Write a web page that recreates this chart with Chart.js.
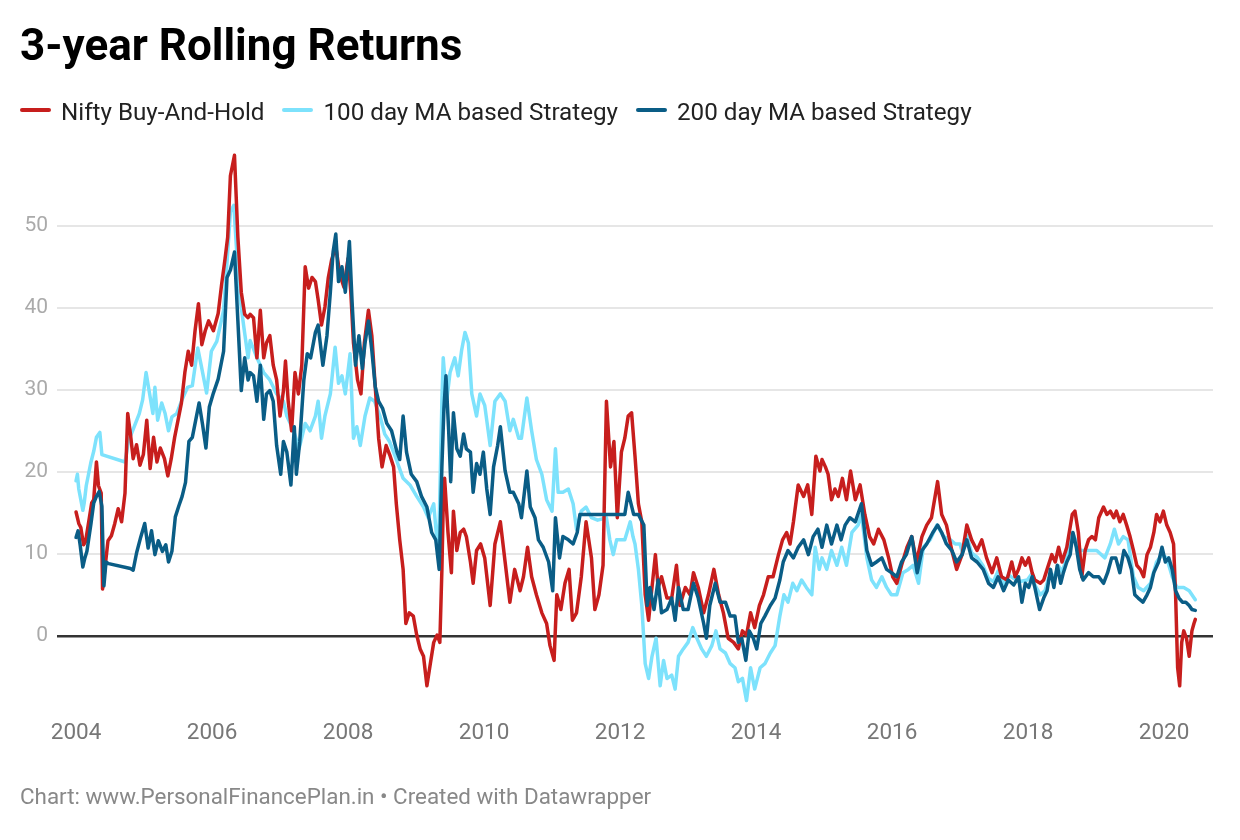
<!DOCTYPE html>
<html>
<head>
<meta charset="utf-8">
<title>3-year Rolling Returns</title>
<script src="https://cdn.jsdelivr.net/npm/chart.js@4.4.1/dist/chart.umd.min.js"></script>
<style>
    html, body { margin: 0; padding: 0; background: #fff; }
    body { width: 1240px; height: 840px; position: relative; overflow: hidden; font-family: Roboto, "Noto Sans", sans-serif; }
    #chart { position: absolute; left: 0; top: 0; }
    .title { position: absolute; left: 20px; top: 23px; margin: 0; font-size: 44px; line-height: 1; font-weight: 700; color: #000; }
    .legend { position: absolute; left: 20px; top: 100px; display: flex; align-items: center; font-size: 24.2px; line-height: 1; color: #222; }
    .legend-item { display: flex; align-items: center; margin-right: 18px; }
    .legend-swatch { width: 31px; height: 4px; border-radius: 2px; margin-right: 10px; position: relative; top: -2px; }
    .footer { position: absolute; left: 20px; top: 785px; font-size: 22.4px; line-height: 1; color: #888; }
</style>
</head>
<body>
<canvas id="chart" width="1240" height="840"></canvas>
<h1 class="title">3-year Rolling Returns</h1>
<div class="legend" id="legend"></div>
<div class="footer">Chart: www.PersonalFinancePlan.in • Created with Datawrapper</div>
<script>
// --- Data (decimal years / % returns) ---
const seriesNames = ['Nifty Buy-And-Hold', '100 day MA based Strategy', '200 day MA based Strategy'];
const seriesColors = ['#c71e1d', '#7de2fc', '#0a5d86'];
const xTickYears = [2004, 2006, 2008, 2010, 2012, 2014, 2016, 2018, 2020];
const yTickValues = [0, 10, 20, 30, 40, 50];

const niftyYears = [
    2004.00, 2004.04, 2004.07, 2004.11, 2004.14, 2004.19, 2004.23, 2004.26, 2004.30, 2004.33, 2004.37, 2004.39, 2004.43, 2004.47,
    2004.52, 2004.57, 2004.62, 2004.67, 2004.72, 2004.76, 2004.80, 2004.84, 2004.89, 2004.94, 2004.99, 2005.04, 2005.09, 2005.14,
    2005.19, 2005.24, 2005.30, 2005.35, 2005.40, 2005.45, 2005.50, 2005.55, 2005.60, 2005.65, 2005.70, 2005.75, 2005.80, 2005.85,
    2005.90, 2005.95, 2006.02, 2006.09, 2006.14, 2006.19, 2006.23, 2006.27, 2006.33, 2006.38, 2006.43, 2006.48, 2006.53, 2006.56,
    2006.61, 2006.66, 2006.71, 2006.76, 2006.80, 2006.85, 2006.90, 2006.95, 2007.00, 2007.05, 2007.08, 2007.12, 2007.17, 2007.22,
    2007.27, 2007.32, 2007.37, 2007.42, 2007.47, 2007.52, 2007.56, 2007.61, 2007.66, 2007.71, 2007.76, 2007.82, 2007.88, 2007.94,
    2008.00, 2008.04, 2008.08, 2008.14, 2008.19, 2008.24, 2008.30, 2008.35, 2008.40, 2008.45, 2008.50, 2008.56, 2008.62, 2008.67,
    2008.71, 2008.76, 2008.81, 2008.85, 2008.90, 2008.96, 2009.01, 2009.06, 2009.11, 2009.16, 2009.21, 2009.26, 2009.31, 2009.35,
    2009.38, 2009.40, 2009.42, 2009.47, 2009.52, 2009.55, 2009.60, 2009.65, 2009.70, 2009.74, 2009.80, 2009.84, 2009.89, 2009.95,
    2010.01, 2010.09, 2010.16, 2010.24, 2010.31, 2010.38, 2010.45, 2010.53, 2010.58, 2010.64, 2010.70, 2010.77, 2010.85, 2010.92,
    2010.97, 2011.03, 2011.07, 2011.13, 2011.19, 2011.25, 2011.30, 2011.36, 2011.43, 2011.50, 2011.58, 2011.63, 2011.69, 2011.75,
    2011.80, 2011.86, 2011.91, 2011.96, 2012.02, 2012.07, 2012.12, 2012.17, 2012.22, 2012.27, 2012.32, 2012.37, 2012.42, 2012.47,
    2012.52, 2012.56, 2012.61, 2012.69, 2012.76, 2012.83, 2012.88, 2012.96, 2013.03, 2013.08, 2013.15, 2013.23, 2013.30, 2013.38,
    2013.45, 2013.52, 2013.59, 2013.67, 2013.74, 2013.80, 2013.86, 2013.92, 2013.98, 2014.05, 2014.11, 2014.18, 2014.25, 2014.33,
    2014.39, 2014.45, 2014.50, 2014.55, 2014.62, 2014.70, 2014.76, 2014.82, 2014.88, 2014.94, 2014.97, 2015.02, 2015.06, 2015.11,
    2015.16, 2015.21, 2015.27, 2015.33, 2015.39, 2015.46, 2015.53, 2015.60, 2015.67, 2015.73, 2015.80, 2015.88, 2015.95, 2016.01,
    2016.07, 2016.14, 2016.22, 2016.29, 2016.36, 2016.44, 2016.51, 2016.58, 2016.67, 2016.73, 2016.80, 2016.88, 2016.95, 2017.03,
    2017.10, 2017.17, 2017.25, 2017.32, 2017.39, 2017.47, 2017.54, 2017.61, 2017.69, 2017.76, 2017.81, 2017.86, 2017.91, 2017.96,
    2018.01, 2018.06, 2018.10, 2018.18, 2018.23, 2018.28, 2018.35, 2018.40, 2018.45, 2018.50, 2018.57, 2018.65, 2018.69, 2018.74,
    2018.79, 2018.84, 2018.89, 2018.94, 2018.99, 2019.04, 2019.11, 2019.16, 2019.21, 2019.26, 2019.30, 2019.35, 2019.40, 2019.45,
    2019.50, 2019.55, 2019.60, 2019.65, 2019.70, 2019.75, 2019.80, 2019.85, 2019.89, 2019.94, 2019.99, 2020.04, 2020.09, 2020.14,
    2020.17, 2020.20, 2020.23, 2020.26, 2020.29, 2020.33, 2020.37, 2020.41, 2020.44, 2020.46
];
const niftyReturns = [
    15.1, 13.7, 13.2, 11.1, 11.5, 14.1, 16.2, 16.6, 21.2, 18.3, 17.4, 5.7, 8.6, 11.6,
    12.2, 13.7, 15.5, 13.9, 17.4, 27.1, 24.6, 21.6, 23.3, 20.8, 22.1, 26.3, 20.4, 24.2,
    21.2, 22.9, 21.6, 19.5, 21.6, 24.2, 26.3, 28.4, 32.1, 34.7, 33.0, 37.2, 40.5, 35.5,
    37.2, 38.4, 37.2, 39.3, 42.8, 45.9, 48.6, 56.1, 58.6, 48.6, 41.9, 39.2, 38.8, 39.2,
    38.8, 33.9, 39.7, 33.9, 35.7, 36.6, 33.0, 31.2, 26.8, 29.9, 33.5, 28.6, 25.0, 32.1,
    29.5, 33.0, 45.0, 42.4, 43.7, 43.2, 41.0, 37.9, 40.1, 43.7, 45.9, 47.5, 44.0, 42.5,
    46.0, 42.0, 35.7, 31.2, 29.5, 35.7, 39.7, 36.6, 30.4, 24.1, 20.6, 23.2, 21.9, 20.6,
    16.1, 11.7, 8.1, 1.5, 2.8, 2.4, 0.1, -1.6, -2.5, -6.1, -3.4, -0.8, 0.1, -0.8,
    8.0, 16.0, 19.2, 12.6, 7.7, 15.2, 10.4, 12.6, 13.0, 12.1, 9.0, 6.4, 10.4, 11.2,
    9.5, 3.7, 11.2, 13.9, 9.0, 4.1, 8.1, 5.5, 7.2, 10.8, 7.2, 5.0, 2.8, 1.5,
    -1.2, -3.0, 5.0, 3.2, 6.4, 8.1, 1.9, 2.8, 7.2, 13.9, 9.5, 3.2, 5.0, 8.6,
    28.6, 20.6, 23.7, 14.4, 22.4, 24.1, 26.8, 27.2, 21.9, 16.1, 13.9, 5.0, 1.9, 5.9,
    9.9, 5.9, 7.2, 4.6, 4.6, 8.6, 3.7, 5.9, 5.0, 7.7, 5.9, 2.8, 5.0, 8.1,
    5.0, 2.8, -0.3, -0.8, -1.6, 0.6, 0.1, 2.8, 1.0, 3.7, 5.0, 7.2, 7.2, 9.9,
    11.7, 12.6, 11.2, 13.9, 18.4, 17.0, 18.4, 14.8, 21.9, 20.1, 21.5, 20.6, 19.7, 16.6,
    17.9, 17.0, 19.2, 16.6, 20.1, 16.6, 18.4, 14.8, 12.1, 11.2, 13.0, 11.7, 9.5, 7.2,
    6.4, 8.6, 10.8, 12.1, 9.0, 12.1, 13.5, 14.4, 18.8, 14.8, 13.5, 10.4, 8.1, 9.9,
    13.5, 11.7, 10.4, 11.7, 9.5, 7.7, 9.5, 7.2, 6.8, 9.0, 7.2, 8.1, 9.5, 8.6,
    9.5, 7.7, 6.8, 6.4, 6.8, 8.1, 9.9, 9.0, 10.8, 9.0, 10.8, 14.8, 15.2, 12.6,
    7.2, 10.4, 11.7, 12.1, 11.7, 14.4, 15.7, 14.8, 15.2, 14.4, 15.2, 13.9, 14.8, 13.5,
    12.1, 10.4, 8.6, 8.1, 7.2, 9.9, 10.8, 12.6, 14.8, 13.9, 15.2, 13.5, 12.6, 11.2,
    5.0, -3.9, -6.1, -0.8, 0.6, -0.3, -2.5, 0.6, 1.5, 2.0
];

const ma100Years = [
    2004.00, 2004.02, 2004.04, 2004.10, 2004.12, 2004.15, 2004.22, 2004.26, 2004.30, 2004.35, 2004.38, 2004.72, 2004.77, 2004.85,
    2004.93, 2004.98, 2005.03, 2005.08, 2005.13, 2005.16, 2005.20, 2005.26, 2005.31, 2005.36, 2005.41, 2005.48, 2005.56, 2005.64,
    2005.71, 2005.79, 2005.84, 2005.92, 2005.99, 2006.07, 2006.17, 2006.22, 2006.27, 2006.32, 2006.40, 2006.47, 2006.53, 2006.56,
    2006.61, 2006.66, 2006.76, 2006.85, 2006.95, 2007.05, 2007.10, 2007.20, 2007.28, 2007.37, 2007.44, 2007.52, 2007.56, 2007.61,
    2007.66, 2007.74, 2007.81, 2007.86, 2007.91, 2007.96, 2008.03, 2008.08, 2008.13, 2008.18, 2008.25, 2008.32, 2008.39, 2008.47,
    2008.54, 2008.61, 2008.71, 2008.81, 2008.91, 2009.01, 2009.11, 2009.18, 2009.26, 2009.33, 2009.38, 2009.40, 2009.45, 2009.50,
    2009.57, 2009.62, 2009.67, 2009.72, 2009.77, 2009.82, 2009.89, 2009.94, 2010.01, 2010.09, 2010.16, 2010.24, 2010.31, 2010.38,
    2010.43, 2010.51, 2010.55, 2010.63, 2010.70, 2010.77, 2010.85, 2010.92, 2011.00, 2011.05, 2011.09, 2011.16, 2011.24, 2011.31,
    2011.36, 2011.43, 2011.50, 2011.58, 2011.67, 2011.80, 2011.85, 2011.90, 2011.95, 2012.07, 2012.15, 2012.19, 2012.22, 2012.27,
    2012.32, 2012.37, 2012.42, 2012.47, 2012.53, 2012.59, 2012.64, 2012.69, 2012.76, 2012.81, 2012.86, 2012.93, 2013.00, 2013.07,
    2013.13, 2013.20, 2013.27, 2013.35, 2013.41, 2013.47, 2013.55, 2013.62, 2013.69, 2013.74, 2013.80, 2013.86, 2013.92, 2013.98,
    2014.06, 2014.13, 2014.21, 2014.28, 2014.35, 2014.41, 2014.47, 2014.54, 2014.60, 2014.67, 2014.74, 2014.82, 2014.87, 2014.93,
    2014.97, 2015.04, 2015.11, 2015.19, 2015.26, 2015.33, 2015.41, 2015.50, 2015.55, 2015.63, 2015.70, 2015.77, 2015.85, 2015.92,
    2015.99, 2016.07, 2016.16, 2016.24, 2016.31, 2016.39, 2016.46, 2016.56, 2016.66, 2016.76, 2016.86, 2016.93, 2017.00, 2017.03,
    2017.10, 2017.17, 2017.25, 2017.34, 2017.42, 2017.49, 2017.56, 2017.64, 2017.71, 2017.79, 2017.86, 2017.99, 2018.05, 2018.10,
    2018.18, 2018.25, 2018.30, 2018.38, 2018.45, 2018.50, 2018.57, 2018.65, 2018.77, 2018.86, 2019.01, 2019.13, 2019.21, 2019.27,
    2019.33, 2019.40, 2019.47, 2019.55, 2019.62, 2019.70, 2019.80, 2019.89, 2019.97, 2020.04, 2020.12, 2020.19, 2020.29, 2020.37,
    2020.46
];
const ma100Returns = [
    18.9, 19.7, 17.9, 15.3, 16.2, 18.3, 21.2, 22.5, 24.2, 24.8, 22.1, 21.2, 23.7, 25.4,
    27.1, 28.8, 32.1, 29.6, 27.1, 30.3, 26.3, 28.4, 27.1, 25.0, 26.7, 27.1, 28.8, 30.3,
    30.5, 35.1, 33.0, 29.6, 34.7, 35.9, 39.7, 45.5, 51.7, 52.5, 41.9, 37.5, 33.9, 36.0,
    35.0, 33.9, 32.1, 31.2, 29.5, 28.6, 26.8, 25.0, 22.8, 25.9, 25.0, 26.8, 28.6, 24.1,
    26.8, 29.5, 35.2, 30.8, 31.7, 29.5, 34.4, 24.1, 25.5, 23.2, 26.8, 29.0, 28.6, 26.8,
    24.6, 23.7, 21.5, 19.2, 18.4, 17.0, 15.7, 14.4, 16.1, 9.5, 28.6, 33.9, 28.6, 32.1,
    33.9, 31.7, 34.8, 37.0, 35.7, 29.5, 26.8, 29.5, 28.1, 23.2, 28.6, 29.5, 28.6, 25.0,
    26.4, 24.1, 24.1, 29.0, 25.0, 21.5, 19.7, 16.6, 15.2, 22.8, 17.5, 17.5, 17.9, 16.1,
    13.0, 15.2, 15.7, 14.4, 14.1, 14.4, 11.7, 9.9, 11.7, 11.7, 13.9, 12.1, 11.2, 8.1,
    3.7, -3.4, -5.2, -2.5, -0.3, -6.1, -3.0, -5.2, -4.8, -6.5, -2.5, -1.6, -0.8, 1.0,
    -0.3, -1.6, -2.5, -1.2, 0.6, -1.6, -2.1, -3.4, -3.9, -5.6, -5.2, -7.9, -3.9, -6.5,
    -3.9, -3.4, -2.1, -1.2, 2.4, 5.0, 4.1, 6.4, 5.5, 6.8, 5.9, 5.0, 10.8, 8.1,
    9.5, 8.1, 10.4, 8.6, 10.8, 8.6, 12.6, 13.5, 14.8, 9.5, 6.8, 5.9, 7.2, 5.9,
    5.0, 5.0, 7.7, 8.1, 8.6, 6.4, 10.8, 11.7, 13.5, 12.1, 11.7, 11.2, 11.2, 10.3,
    12.2, 10.1, 9.6, 8.5, 7.0, 6.6, 7.9, 6.2, 7.4, 7.0, 6.6, 6.8, 7.5, 6.2,
    5.0, 5.5, 7.0, 7.2, 8.5, 7.8, 9.5, 12.6, 10.4, 10.4, 10.4, 9.5, 11.2, 13.0,
    11.2, 12.1, 11.7, 7.2, 5.9, 5.5, 6.4, 9.0, 9.9, 9.5, 7.2, 5.9, 5.9, 5.5,
    4.4
];

const ma200Years = [
    2004.00, 2004.03, 2004.06, 2004.10, 2004.13, 2004.16, 2004.22, 2004.26, 2004.30, 2004.34, 2004.38, 2004.41, 2004.44, 2004.48,
    2004.80, 2004.84, 2004.89, 2004.95, 2005.01, 2005.06, 2005.11, 2005.16, 2005.21, 2005.27, 2005.32, 2005.36, 2005.41, 2005.46,
    2005.51, 2005.56, 2005.61, 2005.66, 2005.71, 2005.76, 2005.81, 2005.86, 2005.91, 2005.96, 2006.02, 2006.09, 2006.17, 2006.22,
    2006.27, 2006.33, 2006.38, 2006.43, 2006.48, 2006.53, 2006.56, 2006.61, 2006.66, 2006.71, 2006.76, 2006.80, 2006.85, 2006.90,
    2006.95, 2007.01, 2007.05, 2007.10, 2007.16, 2007.21, 2007.24, 2007.29, 2007.35, 2007.40, 2007.45, 2007.52, 2007.56, 2007.63,
    2007.69, 2007.74, 2007.78, 2007.82, 2007.86, 2007.91, 2007.96, 2008.02, 2008.06, 2008.11, 2008.16, 2008.21, 2008.25, 2008.30,
    2008.35, 2008.40, 2008.45, 2008.51, 2008.57, 2008.64, 2008.72, 2008.76, 2008.81, 2008.86, 2008.93, 2009.01, 2009.08, 2009.16,
    2009.23, 2009.29, 2009.34, 2009.38, 2009.41, 2009.44, 2009.48, 2009.51, 2009.55, 2009.60, 2009.65, 2009.70, 2009.74, 2009.80,
    2009.84, 2009.89, 2009.94, 2009.99, 2010.04, 2010.09, 2010.14, 2010.20, 2010.24, 2010.31, 2010.38, 2010.43, 2010.51, 2010.55,
    2010.63, 2010.68, 2010.75, 2010.80, 2010.87, 2010.95, 2011.01, 2011.05, 2011.11, 2011.16, 2011.24, 2011.31, 2011.37, 2011.41,
    2012.07, 2012.12, 2012.20, 2012.27, 2012.35, 2012.40, 2012.44, 2012.50, 2012.56, 2012.61, 2012.69, 2012.76, 2012.81, 2012.86,
    2012.93, 2013.00, 2013.08, 2013.15, 2013.23, 2013.27, 2013.32, 2013.40, 2013.47, 2013.55, 2013.62, 2013.69, 2013.74, 2013.79,
    2013.85, 2013.90, 2013.96, 2014.01, 2014.07, 2014.13, 2014.21, 2014.28, 2014.35, 2014.40, 2014.47, 2014.55, 2014.62, 2014.70,
    2014.77, 2014.84, 2014.91, 2014.97, 2015.04, 2015.11, 2015.19, 2015.25, 2015.31, 2015.38, 2015.46, 2015.55, 2015.63, 2015.70,
    2015.77, 2015.85, 2015.92, 2015.99, 2016.07, 2016.14, 2016.21, 2016.29, 2016.37, 2016.44, 2016.51, 2016.60, 2016.67, 2016.73,
    2016.80, 2016.88, 2016.95, 2017.03, 2017.10, 2017.17, 2017.25, 2017.34, 2017.42, 2017.49, 2017.56, 2017.64, 2017.71, 2017.79,
    2017.86, 2017.91, 2017.96, 2018.01, 2018.06, 2018.10, 2018.17, 2018.23, 2018.28, 2018.33, 2018.38, 2018.43, 2018.48, 2018.52,
    2018.57, 2018.62, 2018.66, 2018.71, 2018.76, 2018.81, 2018.89, 2018.96, 2019.04, 2019.11, 2019.17, 2019.23, 2019.29, 2019.35,
    2019.41, 2019.47, 2019.52, 2019.57, 2019.62, 2019.69, 2019.75, 2019.80, 2019.85, 2019.92, 2019.97, 2020.02, 2020.07, 2020.12,
    2020.17, 2020.22, 2020.27, 2020.32, 2020.37, 2020.41, 2020.46
];
const ma200Returns = [
    12.0, 12.8, 11.1, 8.4, 9.5, 10.3, 13.7, 16.2, 17.0, 17.6, 15.8, 6.1, 9.0, 8.8,
    8.2, 8.0, 10.1, 12.0, 13.7, 10.7, 12.8, 9.9, 11.6, 10.3, 11.1, 9.0, 10.3, 14.5,
    15.8, 17.0, 18.7, 23.7, 24.2, 26.3, 28.4, 25.8, 22.9, 27.9, 29.6, 31.3, 34.7, 43.7,
    44.6, 46.8, 38.4, 29.9, 33.9, 31.2, 32.1, 31.7, 28.6, 33.0, 26.4, 29.5, 29.9, 28.6,
    23.2, 19.7, 23.7, 22.4, 18.4, 25.5, 19.7, 23.7, 31.2, 34.4, 33.9, 37.0, 37.9, 33.0,
    36.6, 41.9, 46.8, 49.0, 43.2, 45.0, 41.9, 48.1, 40.6, 33.0, 36.6, 32.6, 35.7, 38.4,
    34.8, 30.4, 28.6, 27.7, 25.9, 25.0, 22.4, 21.5, 26.8, 22.4, 19.7, 18.8, 17.0, 15.7,
    12.6, 11.7, 8.1, 20.6, 27.7, 31.7, 25.0, 18.8, 27.2, 22.8, 21.9, 24.6, 22.8, 22.4,
    17.5, 21.0, 19.7, 22.4, 17.9, 14.8, 20.6, 23.2, 25.5, 20.1, 17.5, 17.5, 16.1, 14.4,
    20.1, 15.7, 14.4, 11.7, 10.8, 9.0, 5.5, 14.4, 9.5, 12.1, 11.7, 11.2, 12.6, 14.8,
    14.8, 17.5, 14.8, 14.8, 13.5, 3.7, 5.9, 3.2, 6.8, 2.8, 3.2, 4.6, 1.9, 5.9,
    3.2, 3.2, 6.4, 4.6, 1.5, -0.3, 3.7, 6.4, 4.1, 4.1, 2.4, 2.4, -0.8, -0.3,
    -3.0, 0.6, -0.3, -1.6, 1.5, 2.4, 3.7, 4.6, 6.8, 9.0, 10.4, 9.5, 10.8, 11.7,
    9.9, 12.1, 13.0, 10.8, 13.5, 11.2, 13.5, 11.7, 13.5, 14.4, 13.9, 16.1, 10.4, 8.6,
    9.0, 9.5, 8.1, 7.7, 7.2, 9.0, 9.9, 12.1, 7.7, 10.4, 11.2, 12.6, 13.5, 12.6,
    11.2, 10.4, 9.0, 9.9, 11.7, 9.5, 9.0, 8.1, 6.4, 5.9, 7.2, 5.5, 6.8, 6.2,
    7.2, 4.1, 6.4, 5.9, 7.2, 5.9, 3.2, 4.6, 5.5, 8.1, 5.9, 8.6, 6.4, 7.7,
    9.0, 9.9, 12.6, 10.8, 8.1, 6.8, 7.7, 7.2, 7.2, 6.4, 7.7, 9.5, 9.5, 7.7,
    10.4, 9.5, 8.1, 5.0, 4.6, 4.1, 5.0, 5.9, 7.7, 9.0, 10.8, 9.0, 9.5, 8.1,
    5.5, 4.6, 4.1, 4.1, 3.7, 3.2, 3.1
];

// --- Build the chart ---
const toPoints = (xs, ys) => xs.map((x, i) => ({ x, y: ys[i] }));
const seriesData = [
    toPoints(niftyYears, niftyReturns),
    toPoints(ma100Years, ma100Returns),
    toPoints(ma200Years, ma200Returns)
];
// dark blue on top, red in the middle, light blue at the back
const drawOrder = [1, 2, 0];

const legendEl = document.getElementById('legend');
seriesNames.forEach((name, i) => {
    const item = document.createElement('div');
    item.className = 'legend-item';
    item.innerHTML = `<span class="legend-swatch" style="background:${seriesColors[i]}"></span><span>${name}</span>`;
    legendEl.appendChild(item);
});

const fontFamily = 'Roboto, "Noto Sans", sans-serif';

new Chart(document.getElementById('chart').getContext('2d'), {
    type: 'line',
    data: {
        datasets: seriesNames.map((name, i) => ({
            label: name,
            data: seriesData[i],
            borderColor: seriesColors[i],
            borderWidth: 3.5,
            pointRadius: 0,
            tension: 0,
            borderJoinStyle: 'round',
            borderCapStyle: 'round',
            order: drawOrder[i]
        }))
    },
    options: {
        responsive: false,
        animation: false,
        layout: { padding: { top: 152, right: 27, left: 0, bottom: 0 } },
        plugins: { legend: { display: false }, tooltip: { enabled: false } },
        scales: {
            x: {
                type: 'linear',
                min: 2003.72,
                max: 2020.72,
                afterBuildTicks: s => { s.ticks = xTickYears.map(v => ({ value: v })); },
                afterFit: s => { s.height = 134.5; },
                grid: { display: false },
                border: { display: false },
                ticks: { color: '#777', padding: 6, font: { family: fontFamily, size: 22.5 }, callback: v => String(v) }
            },
            y: {
                min: -8.5,
                max: 59,
                afterBuildTicks: s => { s.ticks = yTickValues.map(v => ({ value: v })); },
                afterFit: s => { s.width = 57; },
                border: { display: false },
                grid: {
                    drawTicks: false,
                    color: c => c.tick && c.tick.value === 0 ? '#333' : '#e6e6e6',
                    lineWidth: c => c.tick && c.tick.value === 0 ? 2.5 : 2
                },
                ticks: { color: '#aaa', padding: 9, font: { family: fontFamily, size: 21 } }
            }
        }
    }
});
</script>
</body>
</html>
